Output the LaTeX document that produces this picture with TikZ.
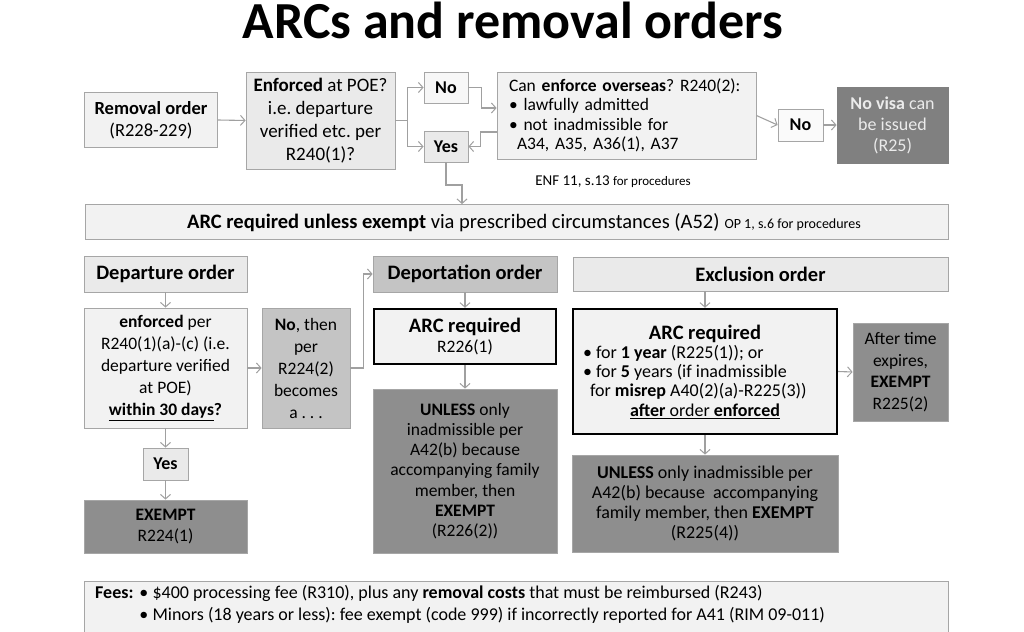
\documentclass[tikz,border=0pt]{standalone}
\usepackage{fontspec}
\setmainfont{Carlito}
\usetikzlibrary{arrows.meta}
\frenchspacing
\definecolor{bdr}{HTML}{A6A6A6}
\definecolor{lite}{HTML}{F2F2F2}
\definecolor{lite2}{HTML}{EAEAEA}
\definecolor{midg}{HTML}{C4C4C4}
\definecolor{darkg}{HTML}{8E8E8E}
\definecolor{darker}{HTML}{808080}
\definecolor{arrc}{HTML}{A0A0A0}
\newcommand\fs[2]{\fontsize{#1}{#2}\selectfont}
\tikzset{
  box/.style={draw=bdr, line width=0.8pt, inner sep=0pt, align=center, fill=lite},
  thick box/.style={draw=black, line width=2.4pt, inner sep=0pt, align=center, fill=lite},
  arr/.style={draw=arrc, line width=1.1pt, -{Straight Barb[length=4.5pt,width=10pt,line width=1pt]}},
  lbl/.style={inner sep=0pt, align=center},
}
\begin{document}
\begin{tikzpicture}[x=1pt,y=-1pt]
\useasboundingbox (0,0) rectangle (1024,631);
% title
\node[lbl, anchor=base] (title) at (513,39) {\fs{52}{60}\textbf{ARCs and removal orders}};
% top row
\node[box, minimum width=133, minimum height=55, font=\fs{18.5}{22}] (rem) at (151,120) {\textbf{Removal order}\\(R228-229)};
\node[box, fill=lite2, minimum width=149, minimum height=97, font=\fs{19}{23}] (enf) at (320.5,120.5) {\textbf{Enforced} at POE?\\i.e. departure\\verified etc. per\\R240(1)?};
\node[box, fill=white!97!black, minimum width=44, minimum height=31, font=\fs{18}{21}] (no1) at (446,87.5) {\textbf{No}};
\node[box, fill=lite2, minimum width=44, minimum height=31, font=\fs{18}{21}] (yes1) at (446,146.5) {\textbf{Yes}};
\node[box, minimum width=259, minimum height=87, align=left, font=\fs{17.5}{19.5}, text width=235] (can) at (626.5,115.5) {Can \textbf{enforce overseas}? R240(2):\\• lawfully admitted\\• not inadmissible for\\\hspace*{8pt}A34, A35, A36(1), A37};
\node[lbl] (enf11) at (613,182) {\fs{15}{17}ENF 11, s.13 \fs{13}{15}for procedures};
\node[box, fill=white!98!black, minimum width=45, minimum height=32, font=\fs{18}{21}] (no2) at (800.5,125) {\textbf{No}};
\node[box, fill=darker, draw=darker, minimum width=111, minimum height=76, font=\fs{18}{21}, text=white!92!black] (novisa) at (892.5,125) {\textbf{No visa} can\\be issued\\(R25)};
% ARC bar
\node[box, minimum width=863, minimum height=35] (arcbar) at (516.5,222) {};
\node[lbl, anchor=east] (arctext) at (861,223) {\fs{20.5}{24}\textbf{ARC required unless exempt} via prescribed circumstances (A52)\hspace{5pt}\fs{14}{16}OP 1, s.6 for procedures};
% departure column
\node[box, fill=lite2, minimum width=163, minimum height=36, font=\fs{20.5}{24}] (dephead) at (165.5,274) {\textbf{Departure order}};
\node[box, minimum width=163, minimum height=120, font=\fs{17.5}{22}] (enfper) at (165.5,368) {\textbf{enforced} per\\R240(1)(a)-(c) (i.e.\\departure verified\\at POE)\\\underline{\textbf{within 30 days}}\textbf{?}};
\node[box, fill=midg, minimum width=88, minimum height=120, font=\fs{17.5}{22}] (nothen) at (306,368) {\textbf{No}, then\\per\\R224(2)\\becomes\\a . . .};
\node[box, fill=lite2, minimum width=45, minimum height=32, font=\fs{18}{21}] (yes2) at (165.5,464) {\textbf{Yes}};
\node[box, fill=darkg, minimum width=163, minimum height=53, font=\fs{17.5}{21}] (ex1) at (165.5,526.5) {\textbf{EXEMPT}\\R224(1)};
% deportation column
\node[box, fill=midg, minimum width=184, minimum height=36, font=\fs{20.5}{24}] (dephd) at (465,274) {\textbf{Deportation order}};
\node[thick box, minimum width=182, minimum height=55, font=\fs{17.5}{20}] (arc1) at (465,336.5) {{\fs{20.5}{24}\textbf{ARC required}}\\R226(1)};
\node[box, fill=darkg, minimum width=184, minimum height=164, font=\fs{17.5}{20.2}] (unl1) at (465,471) {\textbf{UNLESS} only\\inadmissible per\\A42(b) because\\accompanying family\\member, then\\\textbf{EXEMPT}\\(R226(2))};
% exclusion column
\node[box, fill=lite2, minimum width=375, minimum height=34, font=\fs{20.5}{24}] (exhead) at (760.5,274) {\textbf{Exclusion order}};
\node[thick box, minimum width=264, minimum height=125, font=\fs{18}{19.3}] (arc2) at (705,371.5) {{\fs{20.5}{23}\textbf{ARC required}}\\\makebox[244pt][l]{• for \textbf{1 year} (R225(1)); or}\\\makebox[244pt][l]{• for \textbf{5} years (if inadmissible}\\\makebox[244pt][l]{\hspace*{7pt}for \textbf{misrep} A40(2)(a)-R225(3))}\\\underline{\textbf{after} order \textbf{enforced}}};
\node[box, fill=darkg, minimum width=95, minimum height=98, font=\fs{17.5}{21.5}] (after) at (900.5,372) {After time\\expires,\\\textbf{EXEMPT}\\R225(2)};
\node[box, fill=darkg, minimum width=266, minimum height=97, font=\fs{18}{20.2}] (unl2) at (705,503.5) {\textbf{UNLESS} only inadmissible per\\A42(b) because~ accompanying\\family member, then \textbf{EXEMPT}\\(R225(4))};
% fees
\node[box, minimum width=864, minimum height=64, anchor=north west] (fees) at (84,581) {};
\node[lbl, anchor=north west, align=left, font=\fs{18}{22.5}] (feestext) at (95,585) {\textbf{Fees:}\hspace{6pt}• \$400 processing fee (R310), plus any \textbf{removal costs} that must be reimbursed (R243)\\\hphantom{\textbf{Fees:}\hspace{6pt}}• Minors (18 years or less): fee exempt (code 999) if incorrectly reported for A41 (RIM 09-011)};
% connectors
\draw[arr] (rem.east) -- (enf.west);
\draw[arr] (enf.east) -- ++(12,0) |- (no1.west);
\draw[arr] (enf.east) -- ++(12,0) |- (yes1.west);
\draw[arr] (no1.east) -- ++(13,0) |- ([yshift=7.5pt]can.west);
\draw[arr] ([yshift=-16.5pt]can.west) -- ++(-16,0) |- (yes1.east);
\draw[arr] (can.east) -- (no2.west);
\draw[arr] (no2.east) -- (novisa.west);
\coordinate (k) at (462,185);
\draw[arr] (yes1.south) |- (k) -- (k |- arcbar.north);
\draw[arr] (dephead.south) -- (enfper.north);
\draw[arr] (enfper.south) -- (yes2.north);
\draw[arr] (yes2.south) -- (ex1.north);
\draw[arr] (enfper.east) -- (nothen.west);
\draw[arr] (nothen.east) -- ++(13,0) |- (dephd.west);
\draw[arr] (dephd.south) -- (arc1.north);
\draw[arr] (arc1.south) -- (unl1.north);
\draw[arr] (arc2.north |- exhead.south) -- (arc2.north);
\draw[arr] (arc2.south) -- (unl2.north);
\draw[arr] (arc2.east) -- (after.west);
\end{tikzpicture}
\end{document}
